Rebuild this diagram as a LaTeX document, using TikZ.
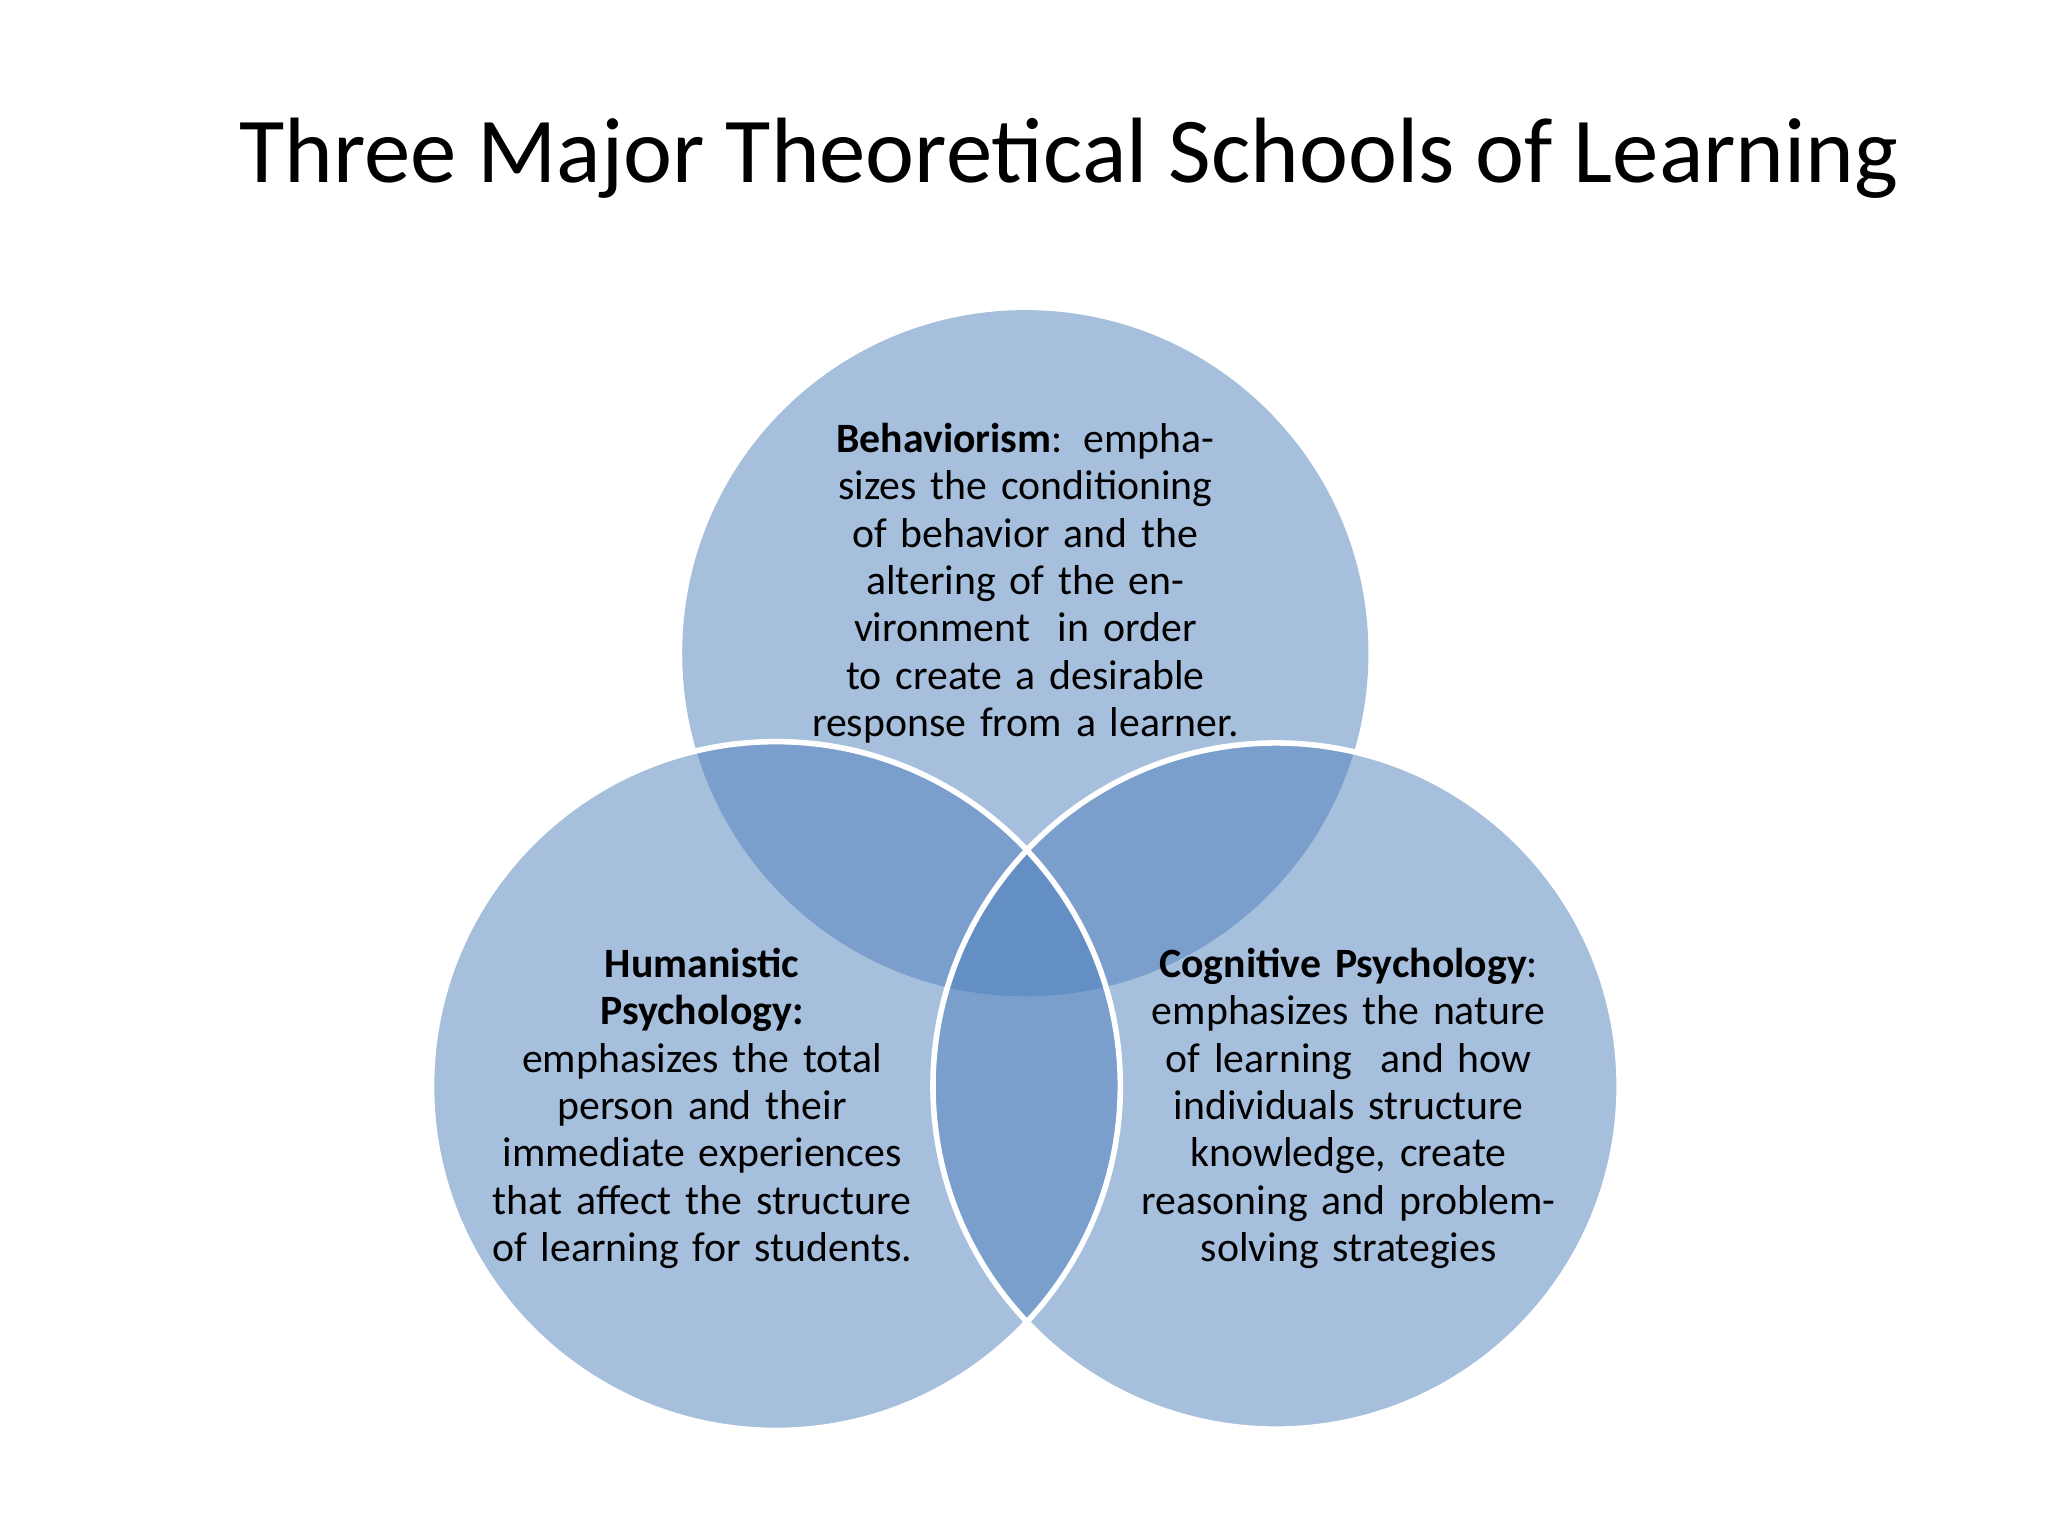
\documentclass[tikz,border=0pt]{standalone}
\usepackage{fontspec}
\setmainfont{Carlito}
\definecolor{vb}{RGB}{79,129,189}
\begin{document}
\begin{tikzpicture}[x=0.01cm,y=-0.01cm,
  circ/.style={fill=vb,fill opacity=0.5},
  edge/.style={draw=white,line width=1.2pt},
  txt/.style={align=center,font=\fontsize{9}{10.2}\selectfont,text width=3.3cm}]
\useasboundingbox (0,0) rectangle (1552,1164);
\fill[white] (0,0) rectangle (1552,1164);
\path[circ] (777,495) circle[radius=260];
\path[circ] (588,823) circle[radius=261];
\path[circ] (967,823) circle[radius=260];
\draw[edge] (588,823) circle[radius=261];
\draw[edge] (967,823) circle[radius=260];
\node[font=\fontsize{20}{24}\selectfont] (title) at (810,120) {Three Major Theoretical Schools of Learning};
\node[txt] (b) at (777,442) {\textbf{Behaviorism}: emphasizes the conditioning of behavior and the altering of the environment\ \ in order to create a desirable response from a learner.};
\node[txt] (h) at (532,840) {\textbf{Humanistic\\ Psychology:}\\ emphasizes the total person and their immediate experiences that affect the structure of learning for students.};
\node[txt] (c) at (1022,840) {\textbf{Cognitive Psychology}: emphasizes the nature of learning\ \ and how individuals structure knowledge, create reasoning and problem-solving strategies};
\end{tikzpicture}
\end{document}
